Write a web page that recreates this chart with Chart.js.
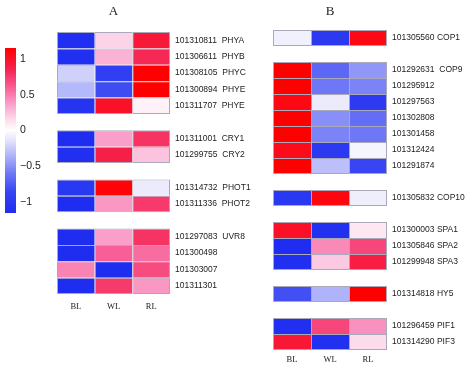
<!DOCTYPE html>
<html><head><meta charset="utf-8">
<script src="https://cdn.jsdelivr.net/npm/chart.js@4"></script>
<style>
html,body{margin:0;padding:0;background:#fff;}
body{width:474px;height:370px;position:relative;overflow:hidden;}
.box{position:absolute;}
</style></head><body>
<div class="box" style="left:5px;top:48px;width:41px;height:165px"><canvas id="cbar"></canvas></div>
<div class="box" style="left:57px;top:0px;width:208px;height:314px"><canvas id="panelA"></canvas></div>
<div class="box" style="left:273px;top:0px;width:201px;height:370px"><canvas id="panelB"></canvas></div>
<script>
// ---- data ----
const conditions = ['BL', 'WL', 'RL'];

const genesA = ['101310811  PHYA', '101306611  PHYB', '101308105  PHYC', '101300894  PHYE', '101311707  PHYE', null,
  '101311001  CRY1', '101299755  CRY2', null,
  '101314732  PHOT1', '101311336  PHOT2', null,
  '101297083  UVR8', '101300498', '101303007', '101311301'];
const blA = [-1.12, -1.13, -0.22, -0.33, -1.06, null, -1.15, -1.12, null, -1.02, -1.15, null, -1.15, -1.15, 0.47, -1.15];
const wlA = [0.18, 0.30, -0.93, -0.82, 1.00, null, 0.37, 0.88, null, 1.12, 0.40, null, 0.37, 0.60, -1.15, 0.75];
const rlA = [0.94, 0.83, 1.15, 1.15, 0.06, null, 0.78, 0.24, null, -0.10, 0.75, null, 0.78, 0.55, 0.68, 0.40];

const genesB = ['101305560 COP1', null,
  '101292631  COP9', '101295912', '101297563', '101302808', '101301458', '101312424', '101291874', null,
  '101305832 COP10', null,
  '101300003 SPA1', '101305846 SPA2', '101299948 SPA3', null,
  '101314818 HY5', null,
  '101296459 PIF1', '101314290 PIF3'];
const blB = [-0.07, null, 1.15, 1.15, 1.08, 1.15, 1.15, 1.05, 1.15, null, -1.02, null, 1.00, -1.15, -1.12, null, -0.80, null, -1.12, 0.95];
const wlB = [-1.00, null, -0.68, -0.60, -0.10, -0.50, -0.55, -1.00, -0.30, null, 1.10, null, -1.10, 0.45, 0.22, null, -0.35, null, 0.70, -1.10];
const rlB = [1.07, null, -0.47, -0.55, -0.98, -0.65, -0.60, -0.05, -0.85, null, -0.08, null, 0.10, 0.70, 0.90, null, 1.15, null, 0.42, 0.15];

const colorTicks = [-1, -0.5, 0, 0.5, 1];
const zMin = -1.15, zMax = 1.15;

// ---- styling ----
const rampStops = [
  [-1.15, 30, 45, 240], [-0.85, 55, 70, 242], [-0.6, 110, 120, 246], [-0.35, 175, 180, 250],
  [-0.15, 225, 225, 250], [0, 255, 255, 255], [0.15, 252, 220, 235], [0.35, 250, 165, 205],
  [0.6, 248, 95, 150], [0.85, 245, 35, 80], [1.15, 255, 0, 0]
];
function heatColor(v) {
  if (v === null || v === undefined) return 'rgba(0,0,0,0)';
  v = Math.max(zMin, Math.min(zMax, v));
  for (let i = 1; i < rampStops.length; i++) {
    const a = rampStops[i - 1], b = rampStops[i];
    if (v <= b[0]) {
      const t = (v - a[0]) / (b[0] - a[0]);
      const c = [1, 2, 3].map(k => Math.round(a[k] + (b[k] - a[k]) * t));
      return 'rgb(' + c.join(',') + ')';
    }
  }
  return 'rgb(255,0,0)';
}
const sansFont = 'Liberation Sans';
const serifFont = 'Liberation Serif';
const textColor = '#222';
const cellBorder = '#a9a9bb';

function heatChart(id, title, genes, cols, opt) {
  const datasets = cols.map((vals, ci) => ({
    label: conditions[ci],
    xAxisID: 'x', yAxisID: 'y',
    data: vals.map(v => v === null ? null : [ci, ci + 1]),
    backgroundColor: ctx => heatColor(vals[ctx.dataIndex]),
    borderColor: cellBorder,
    borderWidth: ctx => {
      const i = ctx.dataIndex;
      const last = (i + 1 >= genes.length) || genes[i + 1] === null;
      return { top: 1, left: 1, right: ci === cols.length - 1 ? 1 : 0, bottom: last ? 1 : 0 };
    },
    borderSkipped: false,
    inflateAmount: 0,
    categoryPercentage: 1, barPercentage: 1, grouped: false
  }));
  return new Chart(document.getElementById(id), {
    type: 'bar',
    data: { labels: genes.map(g => g === null ? '' : g), datasets },
    options: {
      responsive: true, maintainAspectRatio: false, animation: false,
      indexAxis: 'y',
      layout: { padding: 0 },
      plugins: {
        legend: { display: false }, tooltip: { enabled: false },
        title: { display: true, text: title, fullSize: false, color: textColor,
          font: { family: serifFont, size: 13, weight: 'normal', lineHeight: 1.2 },
          padding: { top: 4, bottom: opt.titleBottom } }
      },
      scales: {
        x: { type: 'linear', min: 0, max: 3, display: false },
        xc: { type: 'category', labels: conditions, position: 'bottom', offset: true,
          grid: { display: false, drawTicks: false }, border: { display: false },
          ticks: { padding: opt.xPad, color: textColor, font: { family: serifFont, size: 8.5 } },
          afterFit: s => { s.height = 20; s.paddingLeft = 0; s.paddingRight = 0; } },
        y: { type: 'category', position: 'right',
          grid: { display: false, drawTicks: false }, border: { display: false },
          ticks: { autoSkip: false, padding: 5, color: textColor, font: { family: sansFont, size: 8.5 } },
          afterFit: s => { s.width = opt.axisW; s.paddingTop = 0; s.paddingBottom = 0; } }
      }
    }
  });
}

heatChart('panelA', 'A', genesA, [blA, wlA, rlA], { titleBottom: 12.4, xPad: 8, axisW: 95 });
heatChart('panelB', 'B', genesB, [blB, wlB, rlB], { titleBottom: 10.4, xPad: 5, axisW: 87 });

// ---- colour key ----
function keyGradient(chart) {
  const area = chart.chartArea;
  if (!area) return null;
  const ys = chart.scales.y;
  const g = chart.ctx.createLinearGradient(0, ys.getPixelForValue(zMin), 0, ys.getPixelForValue(zMax));
  rampStops.forEach(s => g.addColorStop((s[0] - zMin) / (zMax - zMin), 'rgb(' + s[1] + ',' + s[2] + ',' + s[3] + ')'));
  return g;
}
new Chart(document.getElementById('cbar'), {
  type: 'bar',
  data: { labels: [''], datasets: [{ data: [[zMin, zMax]], backgroundColor: ctx => keyGradient(ctx.chart),
    borderWidth: 0, categoryPercentage: 1, barPercentage: 1, inflateAmount: 0 }] },
  options: {
    responsive: true, maintainAspectRatio: false, animation: false,
    layout: { padding: 0 },
    plugins: { legend: { display: false }, tooltip: { enabled: false } },
    scales: {
      x: { display: false },
      y: { type: 'linear', position: 'right', min: zMin, max: zMax,
        afterBuildTicks: s => { s.ticks = colorTicks.map(v => ({ value: v })); },
        grid: { display: false, drawTicks: false }, border: { display: false },
        ticks: { padding: 4, color: textColor, font: { family: sansFont, size: 10.5 },
          callback: v => String(v).replace('-', '\u2212') },
        afterFit: s => { s.width = 30; s.paddingTop = 0; s.paddingBottom = 0; } }
    }
  }
});
</script>
</body></html>
